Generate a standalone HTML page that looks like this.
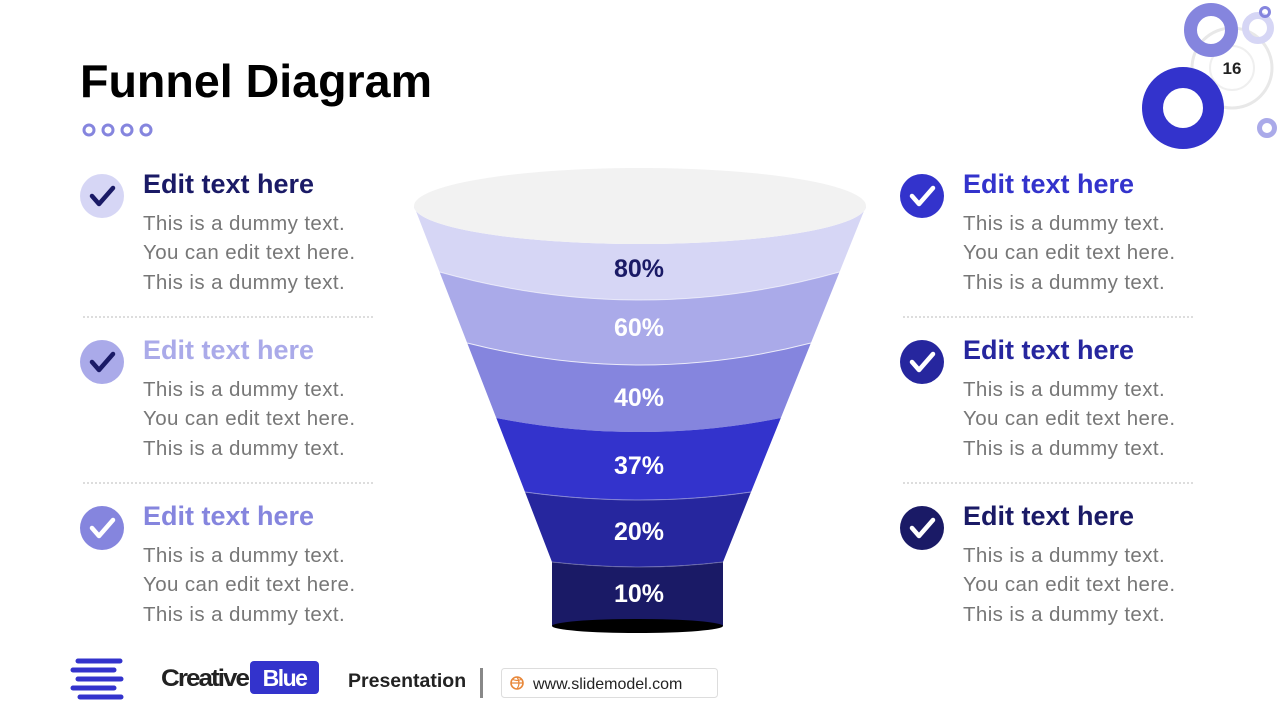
<!DOCTYPE html>
<html><head><meta charset="utf-8"><style>
body{margin:0;background:#fff;}
svg{display:block;font-family:"Liberation Sans",Arial,sans-serif;}
</style></head><body>
<svg width="1280" height="720" viewBox="0 0 1280 720" xmlns="http://www.w3.org/2000/svg">
<rect width="1280" height="720" fill="#fff"/>
<text x="80" y="97" font-size="46" font-weight="bold" fill="#000" textLength="352" lengthAdjust="spacingAndGlyphs">Funnel Diagram</text>
<g fill="none" stroke="#8585de" stroke-width="3">
<circle cx="89" cy="130" r="5"/><circle cx="108" cy="130" r="5"/><circle cx="127" cy="130" r="5"/><circle cx="146" cy="130" r="5"/>
</g>
<circle cx="1232" cy="68" r="40" fill="none" stroke="#e8e8e8" stroke-width="3"/>
<circle cx="1232" cy="68" r="22" fill="none" stroke="#efefef" stroke-width="2"/>
<circle cx="1211" cy="30" r="20.5" fill="none" stroke="#8585de" stroke-width="13"/>
<circle cx="1258" cy="28" r="12.5" fill="none" stroke="#d6d6f5" stroke-width="7"/>
<circle cx="1265" cy="12" r="4.5" fill="none" stroke="#8585de" stroke-width="3"/>
<circle cx="1183" cy="108" r="30.5" fill="none" stroke="#3333cc" stroke-width="21"/>
<circle cx="1267" cy="128" r="7.5" fill="none" stroke="#aaaae9" stroke-width="5"/>
<text x="1232" y="74" font-size="17" font-weight="bold" text-anchor="middle" fill="#222">16</text>

<path d="M414 206 A226 38 0 0 0 866 206 L839.5 272 Q640 328 439.6 272 Z" fill="#d6d6f5"/>
<path d="M439.6 272 Q640 328 839.5 272 L810.9 343 Q640 387 467.2 343 Z" fill="#aaaae9"/>
<path d="M467.2 343 Q640 387 810.9 343 L780.8 418 Q640 446 496.3 418 Z" fill="#8585de"/>
<path d="M496.3 418 Q640 446 780.8 418 L751 492 Q640 508 525 492 Z" fill="#3333cc"/>
<path d="M525 492 Q640 508 751 492 L723 562 Q640 572 552 562 Z" fill="#26269e"/>
<path d="M552 562 Q640 572 723 562 L723 626 L552 626 Z" fill="#1a1a66"/>
<ellipse cx="637.5" cy="626" rx="85.5" ry="7" fill="#000"/>
<ellipse cx="640" cy="206" rx="226" ry="38" fill="#f2f2f2"/>
<path d="M439.6 272 Q640 328 839.5 272" fill="none" stroke="#fff" stroke-width="1" opacity="0.6"/>
<path d="M467.2 343 Q640 387 810.9 343" fill="none" stroke="#fff" stroke-width="1" opacity="0.8"/>
<path d="M525 492 Q640 508 751 492" fill="none" stroke="#fff" stroke-width="1" opacity="0.4"/>
<path d="M552 562 Q640 572 723 562" fill="none" stroke="#fff" stroke-width="1" opacity="0.3"/>
<g font-size="25" font-weight="bold" text-anchor="middle" fill="#fff">
<text x="639" y="277" fill="#1a1a66">80%</text>
<text x="639" y="336">60%</text>
<text x="639" y="406">40%</text>
<text x="639" y="474">37%</text>
<text x="639" y="540">20%</text>
<text x="639" y="602">10%</text>
</g>

<g>
<circle cx="102" cy="196" r="22" fill="#d6d6f5"/>
<path d="M92 196 L99 204 L113 188" fill="none" stroke="#1a1a66" stroke-width="4.5" stroke-linecap="round" stroke-linejoin="round"/>
<circle cx="102" cy="362" r="22" fill="#aaaae9"/>
<path d="M92 362 L99 370 L113 354" fill="none" stroke="#1a1a66" stroke-width="4.5" stroke-linecap="round" stroke-linejoin="round"/>
<circle cx="102" cy="528" r="22" fill="#8585de"/>
<path d="M92 528 L99 536 L113 520" fill="none" stroke="#fff" stroke-width="4.5" stroke-linecap="round" stroke-linejoin="round"/>
<circle cx="922" cy="196" r="22" fill="#3333cc"/>
<path d="M912 196 L919 204 L933 188" fill="none" stroke="#fff" stroke-width="4.5" stroke-linecap="round" stroke-linejoin="round"/>
<circle cx="922" cy="362" r="22" fill="#26269e"/>
<path d="M912 362 L919 370 L933 354" fill="none" stroke="#fff" stroke-width="4.5" stroke-linecap="round" stroke-linejoin="round"/>
<circle cx="922" cy="528" r="22" fill="#1a1a66"/>
<path d="M912 528 L919 536 L933 520" fill="none" stroke="#fff" stroke-width="4.5" stroke-linecap="round" stroke-linejoin="round"/>
</g>
<g stroke="#bbb" stroke-width="1" stroke-dasharray="2 2">
<line x1="83" y1="317" x2="373" y2="317"/><line x1="83" y1="483" x2="373" y2="483"/>
<line x1="903" y1="317" x2="1193" y2="317"/><line x1="903" y1="483" x2="1193" y2="483"/>
</g>
<g font-size="27" font-weight="bold">
<text x="143" y="193" fill="#1a1a66">Edit text here</text>
<text x="143" y="359" fill="#aaaae9">Edit text here</text>
<text x="143" y="525" fill="#8585de">Edit text here</text>
<text x="963" y="193" fill="#3333cc">Edit text here</text>
<text x="963" y="359" fill="#26269e">Edit text here</text>
<text x="963" y="525" fill="#1a1a66">Edit text here</text>
</g>
<g font-size="20.5" fill="#777" letter-spacing="0.4">
<text x="143" y="230">This is a dummy  text.</text><text x="143" y="259">You can edit text here.</text><text x="143" y="289">This is a dummy  text.</text>
<text x="143" y="396">This is a dummy  text.</text><text x="143" y="425">You can edit text here.</text><text x="143" y="455">This is a dummy  text.</text>
<text x="143" y="562">This is a dummy  text.</text><text x="143" y="591">You can edit text here.</text><text x="143" y="621">This is a dummy  text.</text>
<text x="963" y="230">This is a dummy  text.</text><text x="963" y="259">You can edit text here.</text><text x="963" y="289">This is a dummy  text.</text>
<text x="963" y="396">This is a dummy  text.</text><text x="963" y="425">You can edit text here.</text><text x="963" y="455">This is a dummy  text.</text>
<text x="963" y="562">This is a dummy  text.</text><text x="963" y="591">You can edit text here.</text><text x="963" y="621">This is a dummy  text.</text>
</g>

<g stroke="#3333cc" stroke-width="5" stroke-linecap="round">
<line x1="78" y1="661" x2="120" y2="661"/>
<line x1="73" y1="670" x2="114" y2="670"/>
<line x1="78" y1="679" x2="121" y2="679"/>
<line x1="73" y1="688" x2="114" y2="688"/>
<line x1="80" y1="697" x2="121" y2="697"/>
</g>
<text x="161" y="686" font-size="24" font-weight="bold" letter-spacing="-1.8" fill="#222" textLength="87" lengthAdjust="spacingAndGlyphs">Creative</text>
<rect x="250" y="661" width="69" height="33" rx="4" fill="#3333cc"/>
<text x="284.5" y="686" font-size="23" font-weight="bold" letter-spacing="-1.5" fill="#fff" text-anchor="middle">Blue</text>
<text x="348" y="687" font-size="19.5" font-weight="bold" fill="#222">Presentation</text>
<rect x="480" y="668" width="3" height="30" fill="#888"/>
<rect x="501.5" y="668.5" width="216" height="29" rx="3" fill="#fff" stroke="#ddd"/>
<circle cx="517" cy="683" r="6" fill="none" stroke="#e8883a" stroke-width="1.6"/>
<path d="M511 683 H523 M517 677 Q521 683 517 689 M512 679 Q517 682 522 679" fill="none" stroke="#e8883a" stroke-width="1.2"/>
<text x="533" y="689" font-size="16" fill="#222">www.slidemodel.com</text>
</svg>
</body></html>
